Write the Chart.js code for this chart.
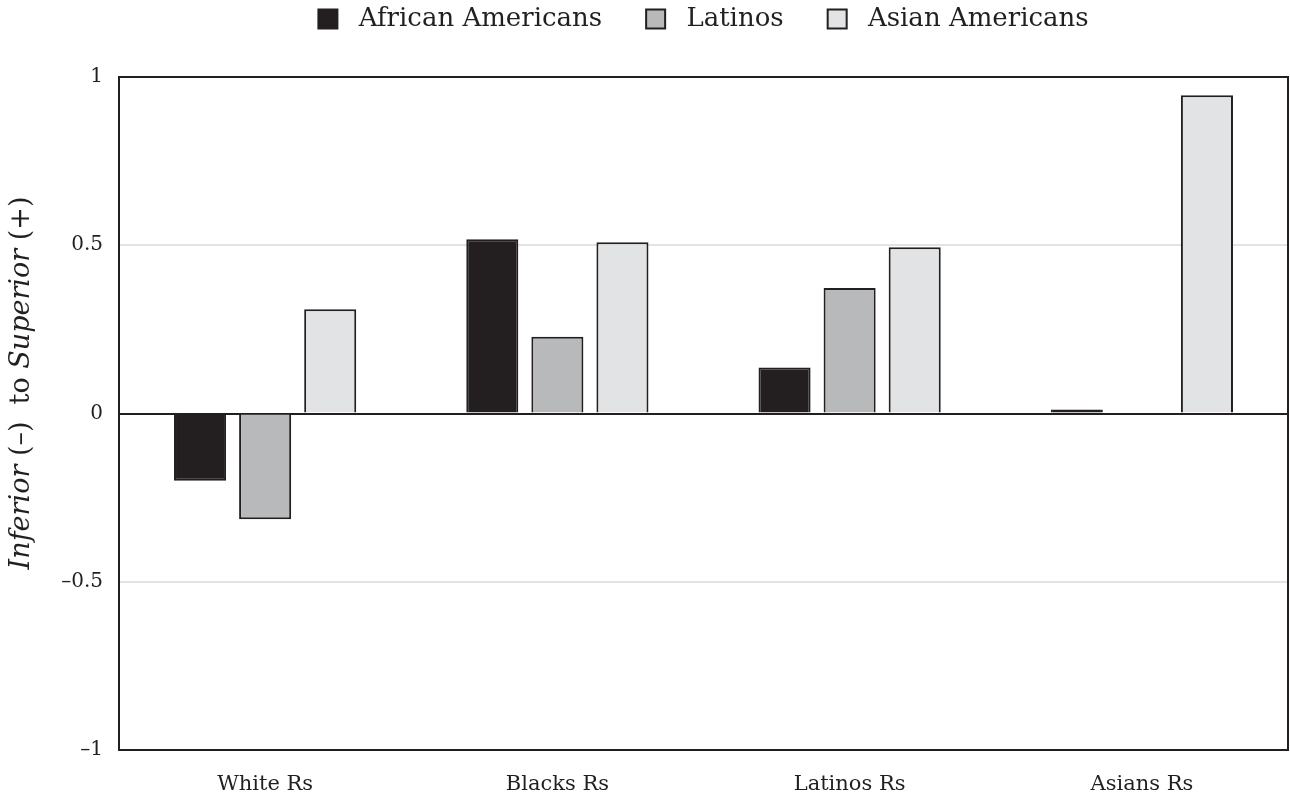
<!DOCTYPE html>
<html>
<head>
<meta charset="utf-8">
<script src="https://cdn.jsdelivr.net/npm/chart.js@4"></script>
<style>
body { margin: 0; background: #fff; }
#wrap { width: 1290px; height: 797px; }
</style>
</head>
<body>
<div id="wrap"><canvas id="chart"></canvas></div>
<script>
var categories = ["White Rs", "Blacks Rs", "Latinos Rs", "Asians Rs"];
var seriesNames = ["African Americans", "Latinos", "Asian Americans"];
var africanAmericans = [-0.20, 0.518, 0.137, 0.012];
var latinos = [-0.314, 0.228, 0.373, 0];
var asianAmericans = [0.31, 0.509, 0.494, 0.946];
var yTicks = [-1, -0.5, 0, 0.5, 1];

var ink = '#231f20';
var serif = "'DejaVu Serif', serif";

// y title has mixed italic / upright runs, so draw it by hand
var yTitlePlugin = {
    id: 'yTitle',
    beforeInit: function(chart) {
        // push the plot down so its top sits under the legend
        var fit = chart.legend.fit;
        chart.legend.fit = function() {
            fit.call(this);
            this.height = 115;
        };
    },
    afterDraw: function(chart) {
        var ctx = chart.ctx;
        var area = chart.chartArea;
        var parts = [['Inferior', true], [' (\u2013)  to ', false], ['Superior', true], [' (+)', false]];
        var size = 27;
        function font(it) { return (it ? 'italic ' : '') + size + 'px ' + serif; }

        ctx.save();
        // frame round the plot
        ctx.strokeStyle = ink;
        ctx.lineWidth = 2;
        ctx.strokeRect(area.left, area.top, area.right - area.left, area.bottom - area.top);

        ctx.fillStyle = ink;
        ctx.textBaseline = 'middle';
        ctx.textAlign = 'left';
        var total = 0;
        parts.forEach(function(p) { ctx.font = font(p[1]); total += ctx.measureText(p[0]).width; });
        ctx.translate(22, 383);
        ctx.rotate(-Math.PI / 2);
        var x = -total / 2;
        parts.forEach(function(p) {
            ctx.font = font(p[1]);
            ctx.fillText(p[0], x, 0);
            x += ctx.measureText(p[0]).width;
        });
        ctx.restore();
    }
};

var ctx1 = document.getElementById('chart').getContext('2d');
var myChart1 = new Chart(ctx1, {
    type: 'bar',
    data: {
        labels: categories,
        datasets: [{
            label: seriesNames[0],
            data: africanAmericans,
            backgroundColor: '#231f20',
            borderColor: ink,
            borderWidth: 2
        }, {
            label: seriesNames[1],
            data: latinos,
            backgroundColor: '#b8b9bb',
            borderColor: ink,
            borderWidth: 2
        }, {
            label: seriesNames[2],
            data: asianAmericans,
            backgroundColor: '#e2e3e5',
            borderColor: ink,
            borderWidth: 2
        }]
    },
    options: {
        responsive: true,
        maintainAspectRatio: false,
        animation: false,
        layout: {
            padding: { top: -38, right: 2, left: 0, bottom: 0 }
        },
        scales: {
            x: {
                grid: { display: false },
                border: { color: ink, width: 2 },
                ticks: {
                    color: ink,
                    padding: 14,
                    font: { family: serif, size: 21 }
                },
                afterFit: function(scale) { scale.height = 47; }
            },
            y: {
                min: -1,
                max: 1,
                afterBuildTicks: function(axis) {
                    axis.ticks = yTicks.map(function(v) { return { value: v }; });
                },
                grid: {
                    drawTicks: false,
                    lineWidth: 2,
                    color: function(c) {
                        var v = c.tick ? c.tick.value : null;
                        return (v === 0 || v === 1 || v === -1) ? ink : '#e3e3e3';
                    }
                },
                border: { color: ink, width: 2 },
                ticks: {
                    color: ink,
                    padding: 16,
                    font: { family: serif, size: 20 },
                    callback: function(value) {
                        return value < 0 ? '\u2013' + Math.abs(value) : String(value);
                    }
                },
                afterFit: function(scale) { scale.width = 119; }
            }
        },
        plugins: {
            legend: {
                display: true,
                position: 'top',
                fullSize: false,
                labels: {
                    color: ink,
                    boxWidth: 19,
                    boxHeight: 19,
                    padding: 44,
                    font: { family: serif, size: 26 },
                    generateLabels: function(chart) {
                        // a leading space widens the gap between box and text
                        var items = Chart.defaults.plugins.legend.labels.generateLabels(chart);
                        items.forEach(function(it) { it.text = ' ' + it.text; });
                        return items;
                    }
                }
            },
            tooltip: { enabled: false }
        },
        barPercentage: 0.8,
        categoryPercentage: 0.668
    },
    plugins: [yTitlePlugin]
});
</script>
</body>
</html>
